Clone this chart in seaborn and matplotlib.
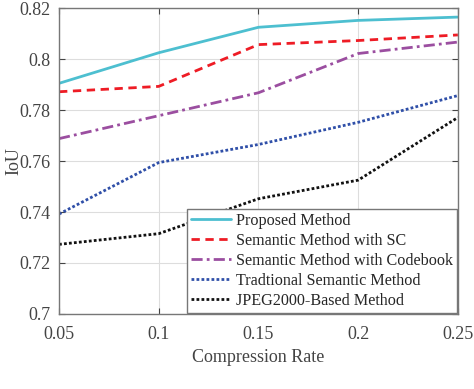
import pandas as pd
import matplotlib.pyplot as plt
import seaborn as sns

# values
rates = [0.05, 0.10, 0.15, 0.20, 0.25]
proposed = [0.7905, 0.8025, 0.8125, 0.8152, 0.8165]
semantic_sc = [0.7872, 0.7893, 0.8057, 0.8073, 0.8095]
semantic_codebook = [0.7688, 0.7778, 0.7868, 0.8022, 0.8067]
traditional = [0.7392, 0.7594, 0.7665, 0.7752, 0.7857]
jpeg2000 = [0.7273, 0.7315, 0.7452, 0.7525, 0.7771]

names = ["Proposed Method", "Semantic Method with SC", "Semantic Method with Codebook",
         "Tradtional Semantic Method", "JPEG2000-Based Method"]
series = [proposed, semantic_sc, semantic_codebook, traditional, jpeg2000]

rows = []
for name, vals in zip(names, series):
    for r, v in zip(rates, vals):
        rows.append({"Compression Rate": r, "IoU": v, "Method": name})
df = pd.DataFrame(rows)

sns.set_style("whitegrid")
plt.rcParams['font.family'] = ['Liberation Serif', 'DejaVu Serif']

colors = ["#4dbfd0", "#ee1c25", "#9b4ea0", "#2f4fa8", "#111111"]
dashes = ["", (3, 2), (4, 1.5, 1, 1.5), (1, 0.8), (1, 0.8)]

fig = plt.figure(figsize=(4.74, 3.89), dpi=100)
ax = fig.add_axes([0.1245, 0.193, 0.8415, 0.786])
sns.lineplot(data=df, x="Compression Rate", y="IoU", hue="Method", style="Method",
             palette=colors, dashes=dashes, linewidth=2.0, ax=ax)

ax.set_xlim(0.05, 0.25)
ax.set_ylim(0.7, 0.82)
ax.set_xticks(rates)
ax.set_xticklabels(["0.05", "0.1", "0.15", "0.2", "0.25"])
ax.set_yticks([0.7, 0.72, 0.74, 0.76, 0.78, 0.8, 0.82])
ax.set_yticklabels(["0.7", "0.72", "0.74", "0.76", "0.78", "0.8", "0.82"])
ax.grid(True, color="#dddddd", linewidth=0.8)
ax.tick_params(axis="both", direction="in", length=4, labelsize=13, colors="#444444",
               top=True, right=True, bottom=True, left=True)
ax.tick_params(axis="x", pad=9)
ax.tick_params(axis="y", pad=6)
for s in ax.spines.values():
    s.set_color("#777777")
    s.set_linewidth(1.0)
ax.set_xlabel("Compression Rate", fontsize=13, color="#444444", labelpad=4)
ax.set_ylabel("IoU", fontsize=13, color="#444444", labelpad=-2)

leg = ax.legend(loc="lower right", fontsize=11.6, handlelength=2.5, handletextpad=0.3,
                labelspacing=0.25, borderpad=0.25, borderaxespad=0.05, fancybox=False,
                framealpha=1)
leg.get_frame().set_edgecolor("#777777")
leg.get_frame().set_linewidth(1.0)
for line in leg.get_lines():
    line.set_linewidth(2.0)

fig.savefig("out.png", dpi=100)
